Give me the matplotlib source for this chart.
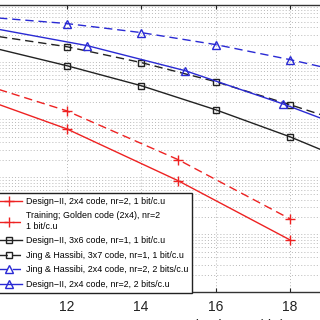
import matplotlib
matplotlib.use("Agg")
import matplotlib.pyplot as plt
from matplotlib.ticker import LogLocator, NullFormatter

# ---- data ----
snr_a = [9, 12, 15, 18]
ber_design_2x4_1bit = [3.44e-3, 6.9e-4, 8.6e-5, 8.05e-6]
ber_golden_2x4_1bit = [5.8e-3, 1.42e-3, 2.0e-4, 1.87e-5]

snr_b = [10, 12, 14, 16, 18, 20]
ber_design_3x6 = [1.78e-2, 8.65e-3, 3.88e-3, 1.48e-3, 5.0e-4, 1.45e-4]
ber_jh_3x7 = [2.88e-2, 1.85e-2, 9.8e-3, 4.56e-3, 1.81e-3, 6.9e-4]
ber_jh_2x4_2bits = [5.94e-2, 4.67e-2, 3.25e-2, 2.01e-2, 1.10e-2, 5.57e-3]

snr_c = [9.92, 12.55, 15.18, 17.8, 20.43]
ber_design_2x4_2bits = [3.97e-2, 1.93e-2, 7.08e-3, 1.88e-3, 4.27e-4]

labels = [
    "Design\u2212II, 2x4 code, nr=2, 1 bit/c.u",
    "Training; Golden code (2x4), nr=2\n1 bit/c.u",
    "Design\u2212II, 3x6 code, nr=1, 1 bit/c.u",
    "Jing & Hassibi, 3x7 code, nr=1, 1 bit/c.u",
    "Jing & Hassibi, 2x4 code, nr=2, 2 bits/c.u",
    "Design\u2212II, 2x4 code, nr=2, 2 bits/c.u",
]
xticks = [12, 14, 16, 18]
xlabel = "Average received SNR (dB)"

plt.rcParams['font.family'] = ['Liberation Sans', 'DejaVu Sans']

RED = '#ee2222'
BLUE = '#2a2ad4'
BLACK = '#222222'

fig = plt.figure(figsize=(3.2, 3.2), dpi=100)
W = 320.0
# axes extends beyond the visible canvas (cropped figure)
left_px, right_px, top_px, bot_px = -8.0, 401.75, 4.5, 292.0
ax = fig.add_axes([left_px / W, 1 - bot_px / W, (right_px - left_px) / W, (bot_px - top_px) / W])

dash = (0, (6, 3.5))
ax.semilogy(snr_a, ber_design_2x4_1bit, color=RED, lw=1.0, marker='+', ms=7, mew=1.0, label=labels[0])
ax.semilogy(snr_a, ber_golden_2x4_1bit, color=RED, lw=1.0, ls=dash, marker='+', ms=7, mew=1.0, label=labels[1])
ax.semilogy(snr_b, ber_design_3x6, color=BLACK, lw=1.0, marker='s', ms=5, mew=1.0, mfc='none', label=labels[2])
ax.semilogy(snr_b, ber_jh_3x7, color=BLACK, lw=1.0, ls=dash, marker='s', ms=5, mew=1.0, mfc='none', label=labels[3])
ax.semilogy(snr_b, ber_jh_2x4_2bits, color=BLUE, lw=1.0, ls=dash, marker='^', ms=6, mew=1.0, mfc='none', label=labels[4])
ax.semilogy(snr_c, ber_design_2x4_2bits, color=BLUE, lw=1.0, marker='^', ms=6, mew=1.0, mfc='none', label=labels[5])

ax.set_xlim(10, 21)
ax.set_ylim(1e-6, 1e-1)
ax.set_xticks(xticks)
ax.set_xticklabels([str(t) for t in xticks])
ax.yaxis.set_major_locator(LogLocator(base=10, numticks=10))
ax.yaxis.set_minor_locator(LogLocator(base=10, subs=range(2, 10), numticks=20))
ax.yaxis.set_minor_formatter(NullFormatter())

gridkw = dict(color='#b8b8b8', ls=(0, (1, 2.2)), lw=0.7)
ax.grid(True, which='major', axis='both', **gridkw)
ax.grid(True, which='minor', axis='y', **gridkw)
ax.set_axisbelow(True)

ax.tick_params(axis='x', direction='in', top=True, length=3, width=0.8, labelsize=10, pad=6, colors='#222222')
ax.tick_params(axis='y', which='both', direction='in', labelleft=False, left=False, right=False)
for s in ax.spines.values():
    s.set_color('#333333')
    s.set_linewidth(1.0)

ax.set_xlabel(xlabel, fontsize=10, color='#222222')
ax.xaxis.set_label_coords((199 - left_px) / (right_px - left_px), -0.095)

ax_x = (192 - left_px) / (right_px - left_px)
leg = ax.legend(loc='lower right', bbox_to_anchor=(ax_x, -0.003), fontsize=6.4, numpoints=1,
                handlelength=2.8, handletextpad=0.45, labelspacing=0.62, borderpad=0.45,
                fancybox=False, framealpha=1.0, edgecolor='#222222', borderaxespad=0)
leg.get_frame().set_linewidth(1.0)

fig.savefig('out.png', dpi=100)
